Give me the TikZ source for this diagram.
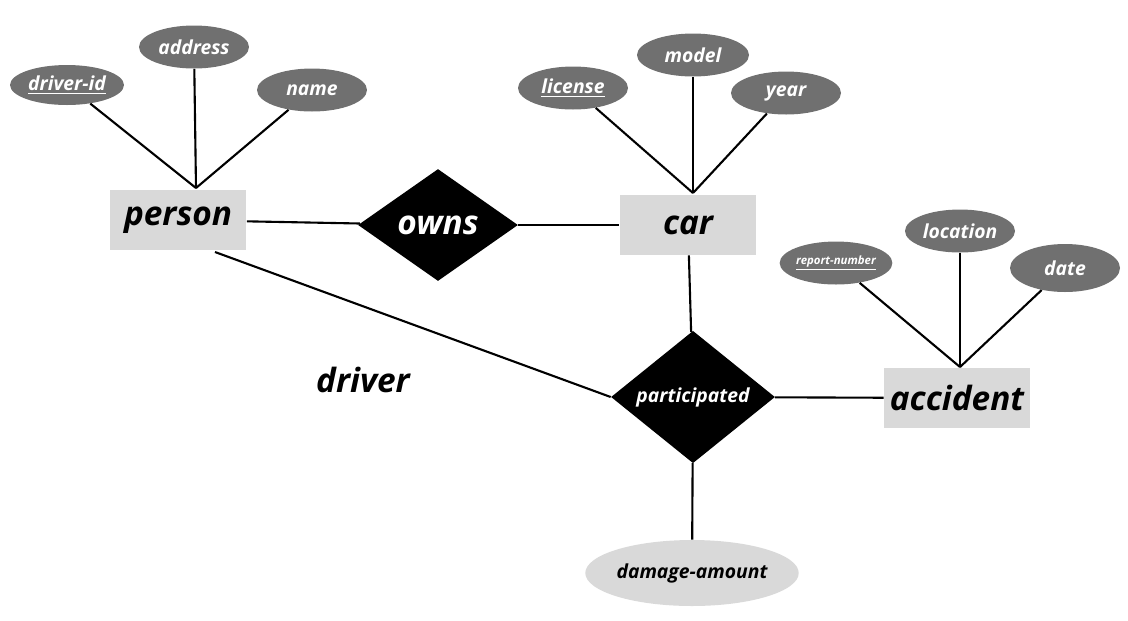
\documentclass[tikz,border=0pt]{standalone}
\usepackage{fontspec}
\setmainfont{Open Sans}
\usetikzlibrary{shapes.geometric}
\definecolor{entgray}{HTML}{D9D9D9}
\definecolor{attgray}{HTML}{707070}
\tikzset{
	x=0.02cm, y=-0.02cm,
	entity/.style={fill=entgray, minimum width=2.74cm, minimum height=1.2cm, font=\bfseries\itshape\fontsize{19}{22}\selectfont},
	rel/.style={diamond, fill=black, text=white, inner sep=0pt, font=\bfseries\itshape\fontsize{19}{22}\selectfont},
	attr/.style={ellipse, fill=attgray, text=white, minimum width=2.2cm, minimum height=0.86cm, inner sep=0pt, font=\bfseries\itshape\fontsize{11}{13}\selectfont},
	conn/.style={line width=1.2pt}
}
\begin{document}
\begin{tikzpicture}
	\useasboundingbox (0,0) rectangle (1128,620);
	% entities
	\node[entity] (person) at (178,220) {person};
	\node[entity] (car) at (688,225) {car};
	\node[entity] (accident) at (957,398) {accident};
	% relationships
	\node[rel, minimum width=3.2cm, minimum height=2.24cm] (owns) at (438,225) {owns};
	\node[rel, minimum width=3.28cm, minimum height=2.24cm, font=\bfseries\itshape\fontsize{11}{13}\selectfont] (part) at (693,397) {participated};
	% attributes
	\node[attr, minimum width=2.28cm, minimum height=0.8cm] (did) at (67,85) {\underline{driver-id}};
	\node[attr] (addr) at (194,47) {address};
	\node[attr] (name) at (312,90) {name};
	\node[attr] (lic) at (573,88) {\underline{license}};
	\node[attr, minimum width=2.24cm] (model) at (693,55) {model};
	\node[attr] (year) at (786,93) {year};
	\node[attr, minimum width=2.16cm, font=\bfseries\itshape\fontsize{6.5}{8}\selectfont] (rep) at (836,263) {\underline{report-number}};
	\node[attr] (loc) at (960,231) {location};
	\node[attr, minimum height=0.96cm] (date) at (1065,268) {date};
	\node[attr, fill=entgray, text=black, minimum width=3.8cm, minimum height=1.32cm] (dmg) at (692,573) {damage-amount};
	\node[font=\bfseries\itshape\fontsize{19}{22}\selectfont] (driver) at (363,380) {driver};
	% junction points
	\coordinate (pj) at (196,188);
	\coordinate (cj) at (693,193);
	\coordinate (aj) at (960,367);
	\coordinate (pd) at (215,252);
	% attribute lines
	\draw[conn] (did) -- (pj);
	\draw[conn] (addr) -- (pj);
	\draw[conn] (name) -- (pj);
	\draw[conn] (lic) -- (cj);
	\draw[conn] (model) -- (cj);
	\draw[conn] (year) -- (cj);
	\draw[conn] (rep) -- (aj);
	\draw[conn] (loc) -- (aj);
	\draw[conn] (date) -- (aj);
	% relationship lines
	\draw[conn] (person) -- (owns);
	\draw[conn] (owns) -- (car);
	\draw[conn] (car) -- (part);
	\draw[conn] (part) -- (accident);
	\draw[conn] (part) -- (dmg);
	\draw[conn] (pd) -- (part.west);
\end{tikzpicture}
\end{document}
